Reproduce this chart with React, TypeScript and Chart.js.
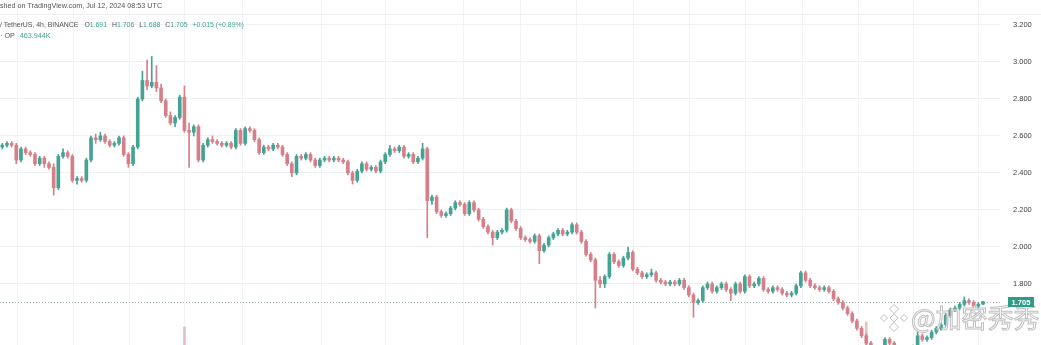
import React, { useEffect, useRef } from 'react';
import { Chart, registerables } from 'chart.js';

Chart.register(...registerables);

// OP / TetherUS, 4h candles (BINANCE)
const opens = [
  2.54, 2.55, 2.56, 2.55, 2.47, 2.53, 2.51, 2.50, 2.45, 2.48,
  2.45, 2.43, 2.32, 2.49, 2.51, 2.49, 2.36, 2.37, 2.36, 2.47,
  2.59, 2.58, 2.60, 2.57, 2.55, 2.56, 2.59, 2.50, 2.45, 2.54,
  2.80, 2.90, 2.87, 2.89, 2.86, 2.79, 2.71, 2.67, 2.70, 2.81,
  2.63, 2.62, 2.65, 2.47, 2.55, 2.58, 2.57, 2.56, 2.55, 2.56,
  2.54, 2.63, 2.56, 2.64, 2.63, 2.58, 2.51, 2.54, 2.53, 2.55,
  2.54, 2.50, 2.45, 2.40, 2.49, 2.48, 2.50, 2.47, 2.44, 2.47,
  2.48, 2.47, 2.48, 2.47, 2.46, 2.40, 2.36, 2.41, 2.45, 2.42,
  2.43, 2.41, 2.46, 2.50, 2.53, 2.52, 2.54, 2.49, 2.50, 2.46,
  2.48, 2.53, 2.25, 2.27, 2.19, 2.17, 2.18, 2.21, 2.24, 2.23,
  2.18, 2.24, 2.20, 2.15, 2.11, 2.08, 2.05, 2.08, 2.09, 2.20,
  2.14, 2.10, 2.05, 2.04, 2.03, 2.06, 1.98, 2.01, 2.05, 2.07,
  2.09, 2.07, 2.08, 2.12, 2.08, 2.03, 1.96, 1.93, 1.82, 1.80,
  1.84, 1.96, 1.92, 1.90, 1.94, 1.97, 1.88, 1.86, 1.84, 1.85,
  1.86, 1.82, 1.81, 1.80, 1.81, 1.80, 1.82, 1.78, 1.74, 1.70,
  1.71, 1.78, 1.80, 1.76, 1.78, 1.80, 1.77, 1.75, 1.80, 1.76,
  1.84, 1.79, 1.80, 1.83, 1.77, 1.76, 1.78, 1.77, 1.75, 1.74,
  1.75, 1.79, 1.86, 1.82, 1.79, 1.78, 1.77, 1.78, 1.76, 1.72,
  1.70, 1.67, 1.64, 1.60, 1.56, 1.52, 1.48, 1.44, 1.42, 1.41,
  1.50, 1.48, 1.45, 1.43, 1.44, 1.45, 1.46, 1.52, 1.50, 1.51,
  1.54, 1.56, 1.58, 1.63, 1.66, 1.67, 1.69, 1.71, 1.70, 1.68,
  1.691,
];

const highs = [
  2.56, 2.57, 2.57, 2.56, 2.54, 2.54, 2.52, 2.51, 2.49, 2.49,
  2.46, 2.45, 2.50, 2.53, 2.52, 2.50, 2.38, 2.38, 2.48, 2.60,
  2.61, 2.62, 2.61, 2.58, 2.57, 2.60, 2.60, 2.51, 2.55, 2.81,
  2.95, 3.01, 3.03, 2.98, 2.88, 2.80, 2.73, 2.71, 2.82, 2.87,
  2.67, 2.66, 2.66, 2.56, 2.59, 2.60, 2.58, 2.57, 2.57, 2.57,
  2.64, 2.64, 2.65, 2.65, 2.64, 2.59, 2.55, 2.55, 2.56, 2.56,
  2.55, 2.51, 2.46, 2.50, 2.50, 2.51, 2.51, 2.48, 2.48, 2.49,
  2.49, 2.49, 2.49, 2.48, 2.47, 2.41, 2.42, 2.46, 2.46, 2.44,
  2.44, 2.47, 2.51, 2.55, 2.54, 2.55, 2.55, 2.51, 2.51, 2.49,
  2.56, 2.54, 2.28, 2.28, 2.20, 2.19, 2.22, 2.25, 2.25, 2.24,
  2.25, 2.25, 2.21, 2.16, 2.12, 2.09, 2.09, 2.10, 2.21, 2.21,
  2.15, 2.11, 2.06, 2.05, 2.07, 2.07, 2.02, 2.06, 2.08, 2.10,
  2.10, 2.09, 2.13, 2.13, 2.09, 2.04, 1.97, 1.94, 1.84, 1.85,
  1.97, 1.97, 1.93, 1.95, 2.00, 1.98, 1.89, 1.87, 1.86, 1.88,
  1.87, 1.83, 1.82, 1.82, 1.82, 1.83, 1.83, 1.79, 1.75, 1.72,
  1.79, 1.81, 1.81, 1.79, 1.81, 1.81, 1.78, 1.81, 1.81, 1.85,
  1.85, 1.81, 1.84, 1.84, 1.78, 1.79, 1.79, 1.78, 1.76, 1.76,
  1.80, 1.87, 1.87, 1.83, 1.80, 1.79, 1.79, 1.79, 1.77, 1.73,
  1.71, 1.68, 1.65, 1.61, 1.57, 1.53, 1.49, 1.45, 1.43, 1.51,
  1.51, 1.49, 1.46, 1.45, 1.46, 1.47, 1.54, 1.53, 1.52, 1.55,
  1.57, 1.59, 1.64, 1.67, 1.68, 1.70, 1.73, 1.72, 1.71, 1.70,
  1.706,
];

const lows = [
  2.53, 2.54, 2.54, 2.45, 2.46, 2.50, 2.49, 2.44, 2.44, 2.43,
  2.42, 2.28, 2.31, 2.48, 2.48, 2.35, 2.34, 2.35, 2.35, 2.46,
  2.56, 2.57, 2.56, 2.54, 2.54, 2.55, 2.49, 2.43, 2.44, 2.53,
  2.79, 2.85, 2.86, 2.84, 2.78, 2.70, 2.66, 2.65, 2.69, 2.62,
  2.43, 2.60, 2.46, 2.46, 2.54, 2.56, 2.55, 2.54, 2.54, 2.53,
  2.53, 2.55, 2.55, 2.62, 2.57, 2.50, 2.50, 2.52, 2.52, 2.53,
  2.49, 2.44, 2.38, 2.39, 2.47, 2.47, 2.46, 2.43, 2.43, 2.46,
  2.46, 2.46, 2.46, 2.45, 2.39, 2.34, 2.35, 2.40, 2.41, 2.41,
  2.40, 2.40, 2.45, 2.49, 2.51, 2.51, 2.48, 2.48, 2.45, 2.45,
  2.47, 2.05, 2.23, 2.18, 2.16, 2.16, 2.17, 2.20, 2.22, 2.17,
  2.17, 2.19, 2.14, 2.10, 2.07, 2.01, 2.04, 2.07, 2.08, 2.13,
  2.09, 2.04, 2.03, 2.02, 2.02, 1.91, 1.97, 2.00, 2.04, 2.06,
  2.06, 2.06, 2.07, 2.07, 2.02, 1.95, 1.92, 1.67, 1.78, 1.78,
  1.83, 1.91, 1.89, 1.89, 1.93, 1.87, 1.85, 1.83, 1.83, 1.84,
  1.81, 1.80, 1.79, 1.79, 1.79, 1.79, 1.77, 1.73, 1.62, 1.69,
  1.70, 1.77, 1.75, 1.75, 1.77, 1.76, 1.71, 1.74, 1.75, 1.75,
  1.78, 1.78, 1.79, 1.76, 1.75, 1.75, 1.76, 1.74, 1.73, 1.73,
  1.74, 1.78, 1.81, 1.78, 1.77, 1.76, 1.76, 1.75, 1.71, 1.69,
  1.66, 1.63, 1.59, 1.55, 1.51, 1.47, 1.43, 1.40, 1.39, 1.40,
  1.47, 1.44, 1.42, 1.42, 1.43, 1.44, 1.45, 1.49, 1.49, 1.50,
  1.53, 1.55, 1.57, 1.62, 1.65, 1.66, 1.68, 1.69, 1.67, 1.67,
  1.688,
];

const closes = [
  2.55, 2.56, 2.55, 2.47, 2.53, 2.51, 2.50, 2.45, 2.48, 2.45,
  2.43, 2.32, 2.49, 2.51, 2.49, 2.36, 2.37, 2.36, 2.47, 2.59,
  2.58, 2.60, 2.57, 2.55, 2.56, 2.59, 2.50, 2.45, 2.54, 2.80,
  2.90, 2.87, 2.89, 2.86, 2.79, 2.71, 2.67, 2.70, 2.81, 2.63,
  2.62, 2.65, 2.47, 2.55, 2.58, 2.57, 2.56, 2.55, 2.56, 2.54,
  2.63, 2.56, 2.64, 2.63, 2.58, 2.51, 2.54, 2.53, 2.55, 2.54,
  2.50, 2.45, 2.40, 2.49, 2.48, 2.50, 2.47, 2.44, 2.47, 2.48,
  2.47, 2.48, 2.47, 2.46, 2.40, 2.36, 2.41, 2.45, 2.42, 2.43,
  2.41, 2.46, 2.50, 2.53, 2.52, 2.54, 2.49, 2.50, 2.46, 2.48,
  2.53, 2.25, 2.27, 2.19, 2.17, 2.18, 2.21, 2.24, 2.23, 2.18,
  2.24, 2.20, 2.15, 2.11, 2.08, 2.05, 2.08, 2.09, 2.20, 2.14,
  2.10, 2.05, 2.04, 2.03, 2.06, 1.98, 2.01, 2.05, 2.07, 2.09,
  2.07, 2.08, 2.12, 2.08, 2.03, 1.96, 1.93, 1.82, 1.80, 1.84,
  1.96, 1.92, 1.90, 1.94, 1.97, 1.88, 1.86, 1.84, 1.85, 1.86,
  1.82, 1.81, 1.80, 1.81, 1.80, 1.82, 1.78, 1.74, 1.70, 1.71,
  1.78, 1.80, 1.76, 1.78, 1.80, 1.77, 1.75, 1.80, 1.76, 1.84,
  1.79, 1.80, 1.83, 1.77, 1.76, 1.78, 1.77, 1.75, 1.74, 1.75,
  1.79, 1.86, 1.82, 1.79, 1.78, 1.77, 1.78, 1.76, 1.72, 1.70,
  1.67, 1.64, 1.60, 1.56, 1.52, 1.48, 1.44, 1.42, 1.41, 1.50,
  1.48, 1.45, 1.43, 1.44, 1.45, 1.46, 1.52, 1.50, 1.51, 1.54,
  1.56, 1.58, 1.63, 1.66, 1.67, 1.69, 1.71, 1.70, 1.68, 1.691,
  1.705,
];

// candle indices where the time grid lines fall
const gridIndices = [3.36, 15.14, 27.34, 39.12, 51.33, 68.25, 81.95, 98.86, 110.86, 123.06, 135.06, 147.05, 159.04, 171.25, 183.24, 195.02, 208.94];
const priceTicks = [1.8, 2.0, 2.2, 2.4, 2.6, 2.8, 3.0, 3.2];
const volumeIndices = [39, 185];
const volumeValues = [5.2, 5.53];
const lastPrice = 1.705;

const UP = '#45a393';
const DOWN = '#d67f88';
const TEAL_TEXT = '#3fa394';
const FONT = '"Liberation Sans", Arial, sans-serif';

export default function App() {
  const ref = useRef<HTMLCanvasElement | null>(null);

  useEffect(() => {
    if (!ref.current) return;
    const idx = closes.map((_, i) => i);
    const colors = idx.map((i) => (closes[i] >= opens[i] ? UP : DOWN));

    const pricePlugin = {
      id: 'priceLine',
      beforeDatasetsDraw(chart: any) {
        const { ctx, chartArea, scales } = chart;
        const y = Math.round(scales.y.getPixelForValue(lastPrice)) + 0.5;
        ctx.save();
        ctx.setLineDash([1, 2]);
        ctx.strokeStyle = '#9fb3ae';
        ctx.lineWidth = 1;
        ctx.beginPath();
        ctx.moveTo(chartArea.left, y);
        ctx.lineTo(chartArea.right, y);
        ctx.stroke();
        ctx.restore();
      },
      afterDraw(chart: any) {
        const { ctx, scales } = chart;
        const ys = scales.y;
        const y = ys.getPixelForValue(lastPrice);
        ctx.save();
        // watermark
        const cx = 894, cy = 318;
        ctx.strokeStyle = 'rgba(165,165,165,0.7)';
        ctx.fillStyle = 'rgba(255,255,255,0.6)';
        ctx.lineWidth = 1;
        const diamond = (x: number, yy: number, r: number) => {
          ctx.beginPath();
          ctx.moveTo(x, yy - r);
          ctx.lineTo(x + r, yy);
          ctx.lineTo(x, yy + r);
          ctx.lineTo(x - r, yy);
          ctx.closePath();
          ctx.fill();
          ctx.stroke();
        };
        diamond(cx, cy, 4);
        diamond(cx - 10, cy, 3.5);
        diamond(cx + 10, cy, 3.5);
        diamond(cx, cy - 9, 4.5);
        diamond(cx, cy + 9, 4.5);
        ctx.font = '26px "Noto Sans CJK SC"';
        ctx.textBaseline = 'middle';
        ctx.textAlign = 'left';
        ctx.fillText('@加密秀秀', 911, 318);
        ctx.strokeText('@加密秀秀', 911, 318);
        // last price label
        const bx = ys.left + 8;
        ctx.fillStyle = '#2f9c88';
        ctx.fillRect(bx, Math.round(y) - 5, 26, 10);
        ctx.fillStyle = '#ffffff';
        ctx.font = `bold 7.5px ${FONT}`;
        ctx.textAlign = 'center';
        ctx.fillText(lastPrice.toFixed(3), bx + 13, Math.round(y) + 0.5);
        ctx.restore();
      },
    };

    const chart = new Chart(ref.current, {
      type: 'bar',
      data: {
        datasets: [
          {
            label: 'volume',
            data: volumeIndices.map((x, k) => ({ x, y: volumeValues[k] })) as any,
            yAxisID: 'v',
            backgroundColor: 'rgba(215,130,138,0.5)',
            barThickness: 2,
            grouped: false,
            order: 3,
          } as any,
          {
            label: 'wick',
            data: idx.map((i) => ({ x: i, y: [lows[i], highs[i]] })) as any,
            backgroundColor: colors,
            barThickness: 1,
            grouped: false,
            order: 2,
          } as any,
          {
            label: 'body',
            data: idx.map((i) => ({ x: i, y: [opens[i], closes[i]] })) as any,
            backgroundColor: colors,
            barThickness: 3,
            minBarLength: 1,
            grouped: false,
            order: 1,
          } as any,
        ],
      },
      options: {
        responsive: false,
        animation: false,
        events: [],
        layout: { padding: 0 },
        plugins: { legend: { display: false }, tooltip: { enabled: false } },
        scales: {
          x: {
            type: 'linear',
            offset: false,
            min: -0.4925,
            max: 213.64,
            afterBuildTicks: (s: any) => {
              s.ticks = gridIndices.map((v) => ({ value: v }));
            },
            afterFit: (s: any) => {
              s.height = 0;
              s.paddingLeft = 0;
              s.paddingRight = 0;
            },
            ticks: { display: false },
            grid: { color: '#f2f3f6', drawTicks: false, offset: false },
            border: { display: false },
          },
          y: {
            type: 'linear',
            position: 'right',
            offset: false,
            min: 1.47,
            max: 3.335,
            afterBuildTicks: (s: any) => {
              s.ticks = priceTicks.map((v) => ({ value: v }));
            },
            afterFit: (s: any) => {
              s.width = 41;
              s.paddingTop = 0;
              s.paddingBottom = 0;
            },
            grid: { color: '#f0f1f4', drawTicks: false, offset: false },
            border: { display: false },
            ticks: {
              padding: 13,
              color: '#3f3f3f',
              font: { size: 7.5, family: FONT },
              callback: (v: any) => Number(v).toFixed(3),
            },
          },
          v: {
            type: 'linear',
            display: false,
            offset: false,
            min: 4,
            max: 27,
          },
        },
      } as any,
      plugins: [pricePlugin],
    });
    return () => chart.destroy();
  }, []);

  const txt: React.CSSProperties = {
    position: 'absolute',
    left: 0,
    fontFamily: FONT,
    fontSize: '7.2px',
    color: '#555',
    whiteSpace: 'pre',
    lineHeight: '9px',
  };
  const val: React.CSSProperties = { color: TEAL_TEXT };
  const gap: React.CSSProperties = { marginLeft: 5 };

  return (
    <div style={{ position: 'fixed', left: 0, top: 0, width: 1041, height: 345, background: '#fff', overflow: 'hidden' }}>
      <canvas ref={ref} width={1041} height={345} style={{ display: 'block', position: 'absolute', left: 0, top: 0 }} />
      <div style={{ position: 'absolute', left: 0, top: 14, width: 1041, height: 1, background: '#f0f0f0' }} />
      <div style={{ ...txt, top: 1 }}>shed on TradingView.com, Jul 12, 2024 08:53 UTC</div>
      <div style={{ ...txt, top: 20, fontSize: '6.9px' }}>
        <span>/ TetherUS, 4h, BINANCE</span>
        <span style={{ marginLeft: 6 }}>O<span style={val}>1.691</span></span>
        <span style={gap}>H<span style={val}>1.706</span></span>
        <span style={gap}>L<span style={val}>1.688</span></span>
        <span style={gap}>C<span style={val}>1.705</span></span>
        <span style={{ ...gap, ...val }}>+0.015 (+0.89%)</span>
      </div>
      <div style={{ ...txt, top: 31 }}>
        <span>· OP</span>
        <span style={{ ...val, marginLeft: 5 }}>463.944K</span>
      </div>
    </div>
  );
}
